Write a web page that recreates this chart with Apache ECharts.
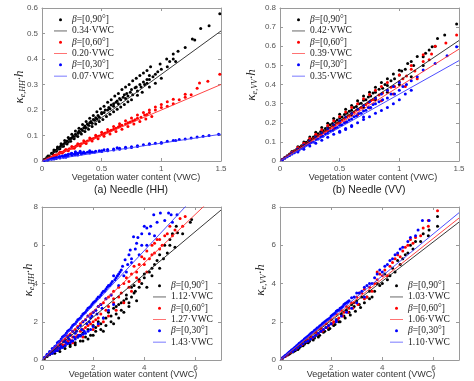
<!DOCTYPE html>
<html><head><meta charset="utf-8">
<script src="https://cdn.jsdelivr.net/npm/echarts@6/dist/echarts.min.js"></script>
<style>html,body{margin:0;padding:0;background:#fff}#c{width:474px;height:381px}</style>
</head><body><div id="c"></div><script>
// ---------- data ----------
const xTicksTop = [0, 0.5, 1, 1.5];
const yTicksA = [0, 0.1, 0.2, 0.3, 0.4, 0.5, 0.6];
const yTicksB = [0, 0.1, 0.2, 0.3, 0.4, 0.5, 0.6, 0.7, 0.8];
const xTicksBottom = [0, 2, 4, 6];
const yTicksBottom = [0, 2, 4, 6, 8];

// panel (a) Needle HH, VWC 0-1.5
const aBlack = [[0.02,0.007],[0.04,0.014],[0.05,0.02],[0.06,0.02],[0.08,0.03],[0.09,0.028],[0.1,0.037],[0.11,0.04],[0.12,0.042],[0.13,0.05],[0.14,0.047],[0.15,0.055],[0.16,0.06],[0.17,0.058],[0.18,0.066],[0.19,0.07],[0.2,0.072],[0.21,0.078],[0.22,0.075],[0.23,0.085],[0.24,0.088],[0.25,0.09],[0.26,0.097],[0.27,0.095],[0.28,0.105],[0.29,0.1],[0.3,0.11],[0.31,0.117],[0.32,0.112],[0.33,0.125],[0.34,0.12],[0.35,0.13],[0.36,0.137],[0.37,0.13],[0.38,0.145],[0.39,0.14],[0.4,0.15],[0.41,0.155],[0.42,0.148],[0.43,0.163],[0.44,0.16],[0.45,0.17],[0.46,0.165],[0.47,0.178],[0.48,0.172],[0.5,0.185],[0.5,0.19],[0.52,0.19],[0.53,0.2],[0.55,0.2],[0.56,0.21],[0.57,0.205],[0.58,0.22],[0.6,0.215],[0.6,0.225],[0.62,0.23],[0.63,0.235],[0.64,0.225],[0.65,0.245],[0.66,0.24],[0.68,0.25],[0.69,0.26],[0.7,0.245],[0.71,0.265],[0.72,0.255],[0.74,0.27],[0.75,0.28],[0.76,0.26],[0.78,0.287],[0.79,0.29],[0.8,0.275],[0.82,0.3],[0.83,0.29],[0.85,0.31],[0.86,0.3],[0.88,0.32],[0.88,0.305],[0.9,0.32],[0.9,0.335],[0.93,0.33],[0.95,0.34],[0.97,0.35],[0.99,0.38],[1.0,0.36],[1.045,0.4],[1.05,0.37],[1.07,0.39],[1.1,0.42],[1.1,0.4],[1.12,0.39],[1.14,0.43],[1.2,0.445],[1.26,0.478],[1.28,0.475],[1.33,0.52],[1.4,0.53],[1.49,0.577]];
const aBlackSpread = [[0.1,0.043],[0.13,0.055],[0.16,0.068],[0.19,0.08],[0.22,0.092],[0.25,0.105],[0.28,0.118],[0.31,0.128],[0.34,0.143],[0.37,0.155],[0.4,0.168],[0.43,0.178],[0.46,0.193],[0.49,0.205],[0.52,0.215],[0.55,0.23],[0.58,0.24],[0.61,0.255],[0.64,0.265],[0.67,0.28],[0.7,0.29],[0.73,0.3],[0.76,0.315],[0.79,0.325],[0.82,0.335],[0.85,0.345],[0.88,0.355],[0.91,0.37],[0.12,0.038],[0.15,0.048],[0.18,0.058],[0.21,0.067],[0.24,0.077],[0.27,0.087],[0.3,0.096],[0.33,0.106],[0.36,0.116],[0.39,0.125],[0.42,0.135],[0.45,0.145],[0.48,0.155],[0.51,0.163],[0.54,0.175],[0.57,0.183],[0.6,0.193],[0.63,0.203],[0.66,0.212],[0.69,0.222],[0.72,0.232],[0.75,0.24],[0.8,0.258],[0.84,0.27],[0.9,0.29],[0.95,0.305],[1.0,0.325]];
const aRed = [[0.02,0.004],[0.04,0.008],[0.05,0.01],[0.06,0.012],[0.08,0.016],[0.1,0.02],[0.11,0.023],[0.12,0.025],[0.14,0.028],[0.15,0.031],[0.16,0.034],[0.18,0.036],[0.19,0.04],[0.2,0.042],[0.22,0.044],[0.23,0.048],[0.25,0.05],[0.26,0.054],[0.28,0.057],[0.29,0.06],[0.3,0.062],[0.32,0.066],[0.33,0.068],[0.35,0.072],[0.36,0.075],[0.38,0.078],[0.4,0.082],[0.41,0.086],[0.43,0.088],[0.45,0.093],[0.46,0.096],[0.48,0.098],[0.5,0.104],[0.52,0.107],[0.53,0.11],[0.55,0.114],[0.57,0.118],[0.58,0.121],[0.6,0.125],[0.62,0.128],[0.64,0.133],[0.65,0.136],[0.67,0.14],[0.7,0.145],[0.72,0.15],[0.74,0.153],[0.76,0.158],[0.78,0.162],[0.8,0.168],[0.83,0.172],[0.86,0.18],[0.88,0.182],[0.9,0.19],[0.95,0.2],[1.0,0.21],[1.05,0.215],[1.1,0.225],[1.15,0.24],[1.2,0.25],[1.25,0.26],[1.32,0.306],[1.39,0.313],[1.49,0.34]];
const aRedSpread = [[0.1,0.023],[0.15,0.034],[0.2,0.045],[0.25,0.057],[0.3,0.068],[0.35,0.079],[0.4,0.09],[0.45,0.101],[0.5,0.113],[0.55,0.124],[0.6,0.135],[0.65,0.146],[0.7,0.158],[0.75,0.169],[0.8,0.18],[0.85,0.19],[0.9,0.2],[0.95,0.212],[1.0,0.222],[1.05,0.232],[1.1,0.242],[1.2,0.262],[1.3,0.285],[0.12,0.022],[0.17,0.031],[0.22,0.04],[0.27,0.05],[0.32,0.059],[0.37,0.069],[0.42,0.078],[0.47,0.087],[0.52,0.097],[0.57,0.106],[0.62,0.116],[0.67,0.125],[0.72,0.135],[0.77,0.145],[0.82,0.155],[0.87,0.165],[0.92,0.175]];
const aBlue = [[0.02,0.002],[0.04,0.004],[0.05,0.006],[0.06,0.008],[0.08,0.01],[0.1,0.012],[0.12,0.014],[0.14,0.016],[0.15,0.018],[0.17,0.02],[0.19,0.022],[0.2,0.024],[0.22,0.026],[0.24,0.028],[0.25,0.03],[0.27,0.026],[0.28,0.032],[0.3,0.03],[0.32,0.033],[0.34,0.03],[0.35,0.035],[0.38,0.034],[0.4,0.036],[0.42,0.035],[0.45,0.038],[0.48,0.04],[0.5,0.04],[0.55,0.045],[0.6,0.047],[0.65,0.05],[0.7,0.054],[0.75,0.056],[0.8,0.06],[0.85,0.064],[0.9,0.066],[0.95,0.07],[1.0,0.073],[1.05,0.077],[1.1,0.08],[1.15,0.084],[1.2,0.086],[1.25,0.09],[1.3,0.094],[1.35,0.097],[1.4,0.1],[1.48,0.105]];
const aBlueSpread = [[0.05,0.004],[0.08,0.007],[0.1,0.008],[0.12,0.01],[0.15,0.012],[0.18,0.015],[0.2,0.015],[0.22,0.02],[0.25,0.022],[0.28,0.025],[0.3,0.024],[0.33,0.027],[0.36,0.03],[0.4,0.031],[0.44,0.034],[0.5,0.037],[0.55,0.04],[0.6,0.043],[0.65,0.046],[0.7,0.05],[0.75,0.053],[0.8,0.057],[0.28,0.036],[0.32,0.038],[0.4,0.04],[0.52,0.044],[0.63,0.052],[0.9,0.068],[1.0,0.07],[1.12,0.08]];

// panel (b) Needle VV, VWC 0-1.5
const bBlack = [[0.02,0.009],[0.04,0.018],[0.06,0.027],[0.08,0.036],[0.1,0.045],[0.12,0.053],[0.14,0.062],[0.16,0.072],[0.18,0.08],[0.2,0.09],[0.22,0.098],[0.24,0.108],[0.26,0.115],[0.28,0.126],[0.3,0.134],[0.32,0.142],[0.34,0.153],[0.36,0.16],[0.38,0.17],[0.4,0.178],[0.42,0.19],[0.44,0.196],[0.46,0.207],[0.48,0.214],[0.5,0.225],[0.52,0.23],[0.54,0.243],[0.56,0.25],[0.58,0.26],[0.6,0.266],[0.62,0.28],[0.64,0.285],[0.66,0.3],[0.68,0.302],[0.7,0.318],[0.72,0.32],[0.74,0.335],[0.76,0.34],[0.78,0.355],[0.8,0.36],[0.83,0.375],[0.86,0.38],[0.88,0.4],[0.9,0.395],[0.93,0.42],[0.96,0.43],[1.0,0.45],[1.02,0.47],[1.05,0.48],[1.07,0.51],[1.12,0.5],[1.15,0.546],[1.2,0.545],[1.22,0.563],[1.275,0.598],[1.3,0.6],[1.38,0.659],[1.48,0.716]];
const bBlackSpread = [[0.1,0.05],[0.15,0.075],[0.2,0.1],[0.25,0.125],[0.3,0.15],[0.35,0.175],[0.4,0.198],[0.45,0.222],[0.5,0.245],[0.55,0.27],[0.6,0.29],[0.65,0.315],[0.7,0.34],[0.75,0.36],[0.8,0.385],[0.85,0.41],[0.9,0.43],[0.95,0.455],[1.0,0.475],[1.1,0.52],[1.25,0.58],[1.32,0.64],[0.3,0.12],[0.4,0.16],[0.5,0.2],[0.6,0.24],[0.7,0.28],[0.8,0.32],[0.9,0.36],[1.0,0.4],[1.1,0.44],[1.2,0.5]];
const bRed = [[0.02,0.008],[0.04,0.016],[0.06,0.025],[0.08,0.033],[0.1,0.041],[0.12,0.05],[0.14,0.057],[0.16,0.066],[0.18,0.074],[0.2,0.082],[0.22,0.09],[0.24,0.1],[0.26,0.106],[0.28,0.116],[0.3,0.122],[0.32,0.132],[0.34,0.14],[0.36,0.148],[0.38,0.155],[0.4,0.165],[0.42,0.172],[0.44,0.182],[0.46,0.188],[0.48,0.198],[0.5,0.205],[0.52,0.213],[0.54,0.222],[0.56,0.23],[0.58,0.238],[0.6,0.248],[0.62,0.255],[0.64,0.265],[0.66,0.27],[0.68,0.28],[0.7,0.29],[0.72,0.295],[0.74,0.305],[0.76,0.315],[0.78,0.32],[0.8,0.33],[0.83,0.345],[0.86,0.355],[0.9,0.37],[0.93,0.385],[0.96,0.39],[1.0,0.415],[1.03,0.43],[1.06,0.445],[1.1,0.5],[1.13,0.47],[1.2,0.555],[1.25,0.53],[1.3,0.6],[1.39,0.617],[1.48,0.659]];
const bRedSpread = [[0.1,0.046],[0.15,0.07],[0.2,0.093],[0.25,0.117],[0.3,0.14],[0.35,0.163],[0.4,0.186],[0.45,0.21],[0.5,0.233],[0.55,0.256],[0.6,0.28],[0.65,0.3],[0.7,0.325],[0.75,0.348],[0.8,0.37],[0.85,0.39],[0.9,0.41],[1.0,0.45],[1.1,0.48],[1.2,0.52],[1.27,0.56],[0.25,0.093],[0.35,0.13],[0.45,0.166],[0.55,0.203],[0.65,0.24],[0.75,0.277],[0.85,0.315],[0.95,0.35],[1.05,0.39],[1.15,0.43]];
const bBlue = [[0.02,0.007],[0.04,0.014],[0.06,0.022],[0.08,0.029],[0.1,0.037],[0.12,0.043],[0.14,0.052],[0.16,0.058],[0.18,0.067],[0.2,0.072],[0.22,0.082],[0.24,0.087],[0.26,0.097],[0.28,0.1],[0.3,0.112],[0.32,0.115],[0.34,0.127],[0.36,0.13],[0.38,0.142],[0.4,0.145],[0.42,0.157],[0.44,0.16],[0.46,0.172],[0.48,0.175],[0.5,0.187],[0.5,0.15],[0.52,0.19],[0.54,0.2],[0.55,0.165],[0.56,0.205],[0.58,0.215],[0.6,0.22],[0.6,0.18],[0.62,0.232],[0.64,0.235],[0.66,0.248],[0.68,0.25],[0.7,0.262],[0.7,0.23],[0.72,0.265],[0.74,0.28],[0.76,0.28],[0.78,0.295],[0.8,0.3],[0.83,0.31],[0.86,0.32],[0.9,0.33],[0.93,0.35],[0.96,0.35],[1.0,0.37],[1.03,0.39],[1.06,0.4],[1.1,0.42],[1.15,0.44],[1.2,0.476],[1.3,0.51],[1.4,0.55],[1.48,0.598]];
const bBlueSpread = [[0.1,0.042],[0.15,0.063],[0.2,0.084],[0.25,0.105],[0.3,0.126],[0.35,0.147],[0.4,0.168],[0.45,0.19],[0.5,0.21],[0.55,0.23],[0.6,0.25],[0.65,0.27],[0.7,0.29],[0.75,0.31],[0.8,0.33],[0.85,0.35],[0.9,0.37],[0.95,0.39],[1.0,0.41],[0.15,0.047],[0.2,0.062],[0.25,0.078],[0.3,0.093],[0.35,0.108],[0.4,0.124],[0.45,0.14],[0.5,0.155],[0.55,0.17],[0.6,0.186],[0.65,0.2],[0.7,0.217],[0.75,0.232],[0.8,0.25],[0.85,0.264],[0.9,0.28],[0.95,0.3],[1.0,0.32],[1.05,0.35],[1.1,0.37]];

// panel (c) HH, VWC 0-7
const cBlack = [[0.1,0.08],[0.2,0.18],[0.3,0.28],[0.4,0.35],[0.5,0.45],[0.6,0.5],[0.7,0.6],[0.8,0.7],[0.9,0.75],[1.0,0.9],[1.1,0.8],[1.2,1.0],[1.3,0.9],[1.4,1.2],[1.5,1.0],[1.6,1.4],[1.7,1.2],[1.8,1.6],[1.9,1.3],[2.0,1.8],[2.1,1.5],[2.2,2.0],[2.3,1.6],[2.4,2.2],[2.5,1.8],[2.6,2.5],[2.7,2.0],[2.8,2.7],[2.9,2.4],[3.0,2.9],[3.1,2.6],[3.2,3.1],[3.3,3.4],[3.4,3.0],[3.5,3.8],[3.6,3.5],[3.65,3.6],[3.8,4.2],[3.9,4.0],[4.0,4.3],[4.2,4.6],[4.3,4.8],[4.5,5.2],[4.6,5.5],[4.75,5.3],[4.8,6.0],[5.0,6.3],[5.1,6.6],[5.25,7.0],[5.3,6.65],[5.85,7.35]];
const cBlackSpread = [[0.5,0.35],[0.7,0.45],[0.9,0.6],[1.1,0.7],[1.3,0.8],[1.5,1.3],[1.6,1.0],[1.8,1.1],[2.0,1.3],[2.1,1.7],[2.3,1.9],[2.4,1.5],[2.5,2.2],[2.7,2.3],[2.8,1.9],[2.9,2.8],[3.0,2.2],[3.1,3.0],[3.2,2.5],[3.3,3.2],[3.4,2.8],[3.5,3.3],[3.6,3.9],[3.7,3.1],[3.8,3.8],[4.0,4.5],[4.1,3.8],[4.3,4.4],[4.4,5.0],[4.6,4.8],[4.9,5.6],[5.0,6.0],[5.2,5.9],[5.5,6.6],[5.8,7.2]];
const cRed = [[0.1,0.12],[0.2,0.25],[0.3,0.35],[0.4,0.5],[0.5,0.6],[0.6,0.75],[0.6,0.6],[0.7,0.85],[0.8,1.0],[0.8,0.8],[0.9,1.1],[1.0,1.25],[1.0,1.0],[1.1,1.35],[1.2,1.5],[1.2,1.2],[1.3,1.6],[1.4,1.75],[1.4,1.3],[1.5,1.9],[1.6,2.0],[1.6,1.6],[1.7,2.1],[1.8,2.3],[1.8,1.8],[1.9,2.4],[2.0,2.5],[2.0,2.0],[2.1,2.6],[2.2,2.8],[2.2,2.2],[2.3,2.9],[2.4,3.0],[2.5,3.2],[2.5,2.6],[2.6,3.3],[2.7,3.4],[2.8,3.6],[2.8,3.0],[3.0,3.8],[3.0,3.3],[3.2,4.0],[3.3,4.3],[3.4,3.8],[3.5,4.5],[3.6,4.9],[3.7,4.3],[3.8,5.0],[3.9,5.4],[4.0,5.0],[4.1,5.7],[4.2,5.3],[4.3,6.0],[4.4,5.6],[4.5,6.3],[4.6,5.8],[4.8,6.5],[5.0,7.0],[5.2,6.8],[5.4,7.4]];
const cRedSpread = [[0.3,0.3],[0.5,0.45],[0.7,0.65],[0.9,0.8],[1.1,1.05],[1.3,1.2],[1.5,1.5],[1.7,1.7],[1.9,1.9],[2.1,2.1],[2.3,2.4],[2.4,2.0],[2.6,2.8],[2.6,2.3],[2.8,3.2],[2.9,2.6],[3.1,3.5],[3.2,3.0],[3.4,4.1],[3.5,3.6],[3.7,4.6],[3.8,4.1],[4.0,5.3],[4.1,4.6],[4.3,5.5],[4.4,6.1],[4.6,6.3],[4.7,6.0],[4.9,6.6],[5.1,6.5],[5.5,7.0],[5.6,7.5],[1.2,0.9],[1.6,1.2],[2.0,1.6],[2.2,1.8]];
const cBlue = [[0.1,0.15],[0.2,0.3],[0.3,0.45],[0.35,0.4],[0.4,0.6],[0.5,0.7],[0.5,0.55],[0.6,0.9],[0.7,1.0],[0.7,0.8],[0.8,1.2],[0.9,1.3],[0.9,1.0],[1.0,1.5],[1.0,1.2],[1.1,1.6],[1.1,1.3],[1.2,1.8],[1.2,1.5],[1.3,1.9],[1.3,1.4],[1.4,2.1],[1.4,1.7],[1.5,2.2],[1.5,1.8],[1.6,2.4],[1.6,2.0],[1.7,2.5],[1.7,2.1],[1.8,2.7],[1.8,2.3],[1.9,2.8],[1.9,2.2],[2.0,3.0],[2.0,2.5],[2.1,3.1],[2.1,2.6],[2.2,3.3],[2.2,2.8],[2.3,3.4],[2.3,2.9],[2.4,3.6],[2.5,3.7],[2.5,3.2],[2.6,3.9],[2.7,4.0],[2.7,3.4],[2.8,4.4],[2.9,4.3],[3.0,4.5],[3.0,3.9],[3.1,4.7],[3.25,5.24],[3.3,4.6],[3.45,5.75],[3.5,5.1],[3.58,6.45],[3.7,6.1],[3.8,5.5],[4.0,7.0],[4.1,6.9],[4.1,6.0],[4.37,7.6],[4.4,6.5],[4.63,7.68],[4.95,7.68],[5.1,7.2],[5.28,7.6]];
const cBlueSpread = [[0.2,0.25],[0.3,0.38],[0.4,0.48],[0.45,0.6],[0.55,0.75],[0.6,0.65],[0.65,0.95],[0.75,1.1],[0.75,0.7],[0.85,1.25],[0.85,0.95],[0.95,1.4],[0.95,0.9],[1.05,1.55],[1.05,1.1],[1.15,1.7],[1.15,1.0],[1.25,1.85],[1.25,1.2],[1.35,2.0],[1.35,1.5],[1.45,2.15],[1.45,1.3],[1.55,2.3],[1.55,1.6],[1.65,2.45],[1.65,1.5],[1.75,2.6],[1.75,1.9],[1.85,2.75],[1.85,2.0],[1.95,2.9],[1.95,2.3],[2.05,3.05],[2.15,3.2],[2.15,2.4],[2.25,3.3],[2.35,3.5],[2.35,2.7],[2.45,3.6],[2.55,3.8],[2.65,3.9],[2.75,4.1],[2.85,4.2],[2.95,4.4],[3.05,4.6],[3.15,4.9],[3.2,4.4],[3.35,5.0],[3.4,5.5],[3.5,5.3],[3.65,5.8],[3.75,6.4],[3.9,6.0],[3.9,6.6],[4.2,6.6],[4.25,7.0],[4.5,7.2],[4.8,7.3],[5.05,7.6],[0.3,0.3],[0.4,0.35],[0.5,0.45],[0.6,0.5],[0.7,0.6],[0.8,0.65],[0.9,0.75],[1.0,0.85],[1.1,0.9],[1.2,1.0],[1.3,1.1],[1.4,1.2],[1.5,1.25],[1.6,1.35],[1.7,1.4],[1.8,1.5],[1.9,1.6],[2.0,1.75],[2.2,1.9],[2.4,2.2],[2.6,2.6],[2.8,2.9]];

// panel (d) VV, VWC 0-7
const dBlack = [[0.1,0.09],[0.2,0.18],[0.3,0.26],[0.4,0.35],[0.5,0.42],[0.6,0.5],[0.7,0.55],[0.8,0.7],[0.9,0.75],[1.0,0.9],[1.1,0.9],[1.2,1.1],[1.3,1.05],[1.4,1.3],[1.5,1.2],[1.6,1.5],[1.7,1.45],[1.8,1.7],[1.9,1.6],[2.0,1.9],[2.1,1.8],[2.2,2.1],[2.3,2.0],[2.4,2.4],[2.5,2.3],[2.6,2.6],[2.7,2.5],[2.8,2.9],[2.9,2.8],[3.0,3.1],[3.1,2.9],[3.2,3.3],[3.4,3.3],[3.5,3.6],[3.6,3.3],[3.8,4.0],[4.0,4.0],[4.1,4.5],[4.3,4.4],[4.4,4.8],[4.6,5.2],[4.8,5.3],[5.0,5.6],[5.1,6.0],[5.3,6.2],[5.6,6.6],[5.83,6.8],[6.16,7.5]];
const dBlackSpread = [[0.35,0.3],[0.55,0.46],[0.75,0.63],[0.95,0.82],[1.15,0.98],[1.35,1.15],[1.55,1.3],[1.75,1.5],[1.95,1.65],[2.15,1.85],[2.35,2.0],[2.55,2.2],[2.75,2.35],[2.95,2.55],[3.15,2.75],[3.3,3.0],[3.5,3.2],[3.7,3.6],[3.9,3.9],[4.2,4.2],[4.5,4.6],[4.7,5.0],[4.9,5.5],[5.2,5.8],[5.5,6.2],[5.8,6.5],[6.16,7.0]];
const dRed = [[0.1,0.1],[0.2,0.2],[0.3,0.3],[0.4,0.4],[0.5,0.5],[0.6,0.58],[0.7,0.7],[0.8,0.8],[0.9,0.85],[1.0,1.0],[1.1,1.05],[1.2,1.2],[1.3,1.2],[1.4,1.45],[1.5,1.4],[1.6,1.65],[1.7,1.6],[1.8,1.9],[1.9,1.8],[2.0,2.1],[2.1,2.0],[2.2,2.4],[2.3,2.2],[2.4,2.6],[2.5,2.5],[2.6,2.8],[2.7,2.7],[2.8,3.0],[2.9,3.0],[3.0,3.3],[3.2,3.5],[3.3,3.2],[3.5,3.8],[3.6,3.6],[3.8,4.2],[3.9,4.5],[4.1,4.7],[4.2,4.4],[4.4,5.1],[4.6,5.5],[4.8,5.7],[5.0,6.0],[5.1,6.3],[5.3,6.4],[5.6,6.9],[5.8,7.0],[6.16,7.8]];
const dRedSpread = [[0.25,0.25],[0.45,0.45],[0.65,0.62],[0.85,0.8],[1.05,0.98],[1.25,1.15],[1.45,1.35],[1.65,1.5],[1.85,1.7],[2.05,1.9],[2.25,2.1],[2.45,2.3],[2.65,2.5],[2.85,2.7],[3.05,2.9],[3.1,3.5],[3.3,3.7],[3.4,3.3],[3.7,4.0],[3.8,4.6],[4.0,4.4],[4.3,4.9],[4.5,5.3],[4.7,5.4],[4.9,5.9],[5.2,6.1],[5.5,6.5],[5.8,7.3]];
const dBlue = [[0.1,0.12],[0.2,0.23],[0.3,0.34],[0.4,0.46],[0.5,0.56],[0.5,0.45],[0.6,0.68],[0.7,0.8],[0.7,0.65],[0.8,0.92],[0.9,1.02],[0.9,0.85],[1.0,1.15],[1.1,1.25],[1.1,1.0],[1.2,1.38],[1.3,1.48],[1.3,1.2],[1.4,1.6],[1.5,1.7],[1.5,1.4],[1.6,1.82],[1.7,1.95],[1.7,1.6],[1.8,2.05],[1.9,2.15],[1.9,1.8],[2.0,2.3],[2.1,2.4],[2.2,2.55],[2.2,2.1],[2.3,2.6],[2.4,2.75],[2.5,2.9],[2.6,3.0],[2.7,3.1],[2.8,3.25],[2.9,3.3],[3.0,3.5],[3.2,3.6],[3.4,3.9],[3.6,4.0],[3.8,4.5],[4.0,4.6],[4.2,5.0],[4.4,5.3],[4.6,5.6],[4.8,5.9],[5.0,6.2],[5.3,6.5],[5.57,7.3],[5.83,7.3]];
const dBlueSpread = [[0.15,0.17],[0.25,0.28],[0.35,0.4],[0.45,0.52],[0.55,0.63],[0.65,0.75],[0.75,0.87],[0.85,0.98],[0.95,1.1],[1.05,1.2],[1.15,1.32],[1.25,1.44],[1.35,1.55],[1.45,1.67],[1.55,1.78],[1.65,1.9],[1.75,2.0],[1.85,2.1],[1.95,2.2],[2.05,2.35],[2.15,2.45],[2.25,2.6],[2.35,2.7],[2.45,2.8],[2.55,2.95],[2.65,3.05],[0.6,0.55],[0.8,0.75],[1.0,0.95],[1.2,1.1],[1.4,1.3],[1.6,1.5],[1.8,1.7],[2.0,1.9],[2.2,2.0],[2.4,2.3],[2.6,2.5],[2.8,2.7],[3.0,3.0],[3.1,3.5],[3.3,3.3],[3.3,3.8],[3.5,4.0],[3.7,4.3],[3.9,4.7],[4.1,4.9],[4.3,5.2],[4.5,5.5],[4.7,5.8],[5.1,6.4],[5.4,6.8]];

// fitted lines: end points
const aLines = [[[0,0],[1.5,0.51]], [[0,0],[1.5,0.30]], [[0,0],[1.5,0.105]]];
const bLines = [[[0,0],[1.5,0.63]], [[0,0],[1.5,0.585]], [[0,0],[1.5,0.525]]];
const cLines = [[[0,0],[7,7.84]], [[0,0],[7,8.89]], [[0,0],[7,10.01]]];
const dLines = [[[0,0],[7,7.21]], [[0,0],[7,7.42]], [[0,0],[7,7.7]]];

const betaLabels = ['{i|β}=[0,90°]', '{i|β}=[0,60°]', '{i|β}=[0,30°]'];
const fitA = ['0.34·VWC', '0.20·VWC', '0.07·VWC'];
const fitB = ['0.42·VWC', '0.39·VWC', '0.35·VWC'];
const fitC = ['1.12·VWC', '1.27·VWC', '1.43·VWC'];
const fitD = ['1.03·VWC', '1.06·VWC', '1.10·VWC'];

// ---------- chart ----------
const scatterColors = ['#000000', '#ff0000', '#0000ff'];
const lineColors = ['#222222', '#ff3030', '#3a3aff'];
const grids = [
  {left: 42, top: 8, width: 179, height: 153},
  {left: 280, top: 8, width: 179, height: 153},
  {left: 42, top: 207, width: 179, height: 153},
  {left: 280, top: 207, width: 179, height: 153}
];
const panels = [
  {id:'a', xt: xTicksTop, xmax: 1.5, yt: yTicksA, pts:[aBlack.concat(aBlackSpread), aRed.concat(aRedSpread), aBlue.concat(aBlueSpread)], lines:aLines, fits:fitA, legend:{left:54, top:14}},
  {id:'b', xt: xTicksTop, xmax: 1.5, yt: yTicksB, pts:[bBlack.concat(bBlackSpread), bRed.concat(bRedSpread), bBlue.concat(bBlueSpread)], lines:bLines, fits:fitB, legend:{left:292, top:14}},
  {id:'c', xt: xTicksBottom, xmax: 7, yt: yTicksBottom, pts:[cBlack.concat(cBlackSpread), cRed.concat(cRedSpread), cBlue.concat(cBlueSpread)], lines:cLines, fits:fitC, legend:{left:153, top:280}},
  {id:'d', xt: xTicksBottom, xmax: 7, yt: yTicksBottom, pts:[dBlack.concat(dBlackSpread), dRed.concat(dRedSpread), dBlue.concat(dBlueSpread)], lines:dLines, fits:fitD, legend:{left:390, top:280}}
];

const axisCol = '#9a9a9a';
function mkAxis(gi, ticks, max, pos, showLabel) {
  const interval = ticks[1] - ticks[0];
  return {
    type: 'value', gridIndex: gi, position: pos, min: ticks[0], max: max, interval: interval,
    axisLine: {show: true, onZero: false, lineStyle: {color: axisCol, width: 1}},
    axisTick: {show: true, inside: true, length: 3, lineStyle: {color: axisCol}},
    splitLine: {show: false},
    axisLabel: {show: showLabel, color: '#555', fontSize: 8, fontFamily: 'Liberation Sans', margin: 4,
      formatter: v => (ticks.some(t => Math.abs(t - v) < 1e-9) ? String(v) : '')}
  };
}

const lineIcon = 'path://M0,0H100V7H0Z';
const xAxis = [], yAxis = [], series = [], legend = [];
const nameMap = {};
panels.forEach((p, gi) => {
  xAxis.push(mkAxis(gi, p.xt, p.xmax, 'bottom', true));
  xAxis.push(mkAxis(gi, p.xt, p.xmax, 'top', false));
  yAxis.push(mkAxis(gi, p.yt, p.yt[p.yt.length-1], 'left', true));
  yAxis.push(mkAxis(gi, p.yt, p.yt[p.yt.length-1], 'right', false));
  const ldata = [];
  for (let k = 0; k < 3; k++) {
    const sn = p.id + 's' + k, ln = p.id + 'l' + k;
    nameMap[sn] = betaLabels[k];
    nameMap[ln] = p.fits[k];
    series.push({type: 'scatter', name: sn, xAxisIndex: 2*gi, yAxisIndex: 2*gi, data: p.pts[k],
      symbol: 'circle', symbolSize: 3, itemStyle: {color: scatterColors[k], opacity: 1}, silent: true});
    series.push({type: 'line', name: ln, xAxisIndex: 2*gi, yAxisIndex: 2*gi, data: p.lines[k],
      symbol: 'none', showSymbol: false, clip: true, lineStyle: {color: lineColors[k], width: 0.9}, itemStyle: {color: lineColors[k]}, silent: true});
    ldata.push({name: sn, icon: 'circle'});
    ldata.push({name: ln, icon: lineIcon, itemStyle: {color: lineColors[k], opacity: 0.75}});
  }
  legend.push({
    orient: 'vertical', left: p.legend.left, top: p.legend.top, itemGap: 0, itemWidth: 13, itemHeight: 3,
    padding: 0, selectedMode: false, data: ldata, symbolKeepAspect: true,
    formatter: n => nameMap[n],
    textStyle: {fontFamily: 'Liberation Serif', fontSize: 9.5, color: '#222', lineHeight: 11.3, padding: [0,0,0,0],
      rich: {i: {fontFamily: 'Liberation Serif', fontStyle: 'italic', fontSize: 9.5, color: '#222', lineHeight: 11.3}}}
  });
});

const xTitle = 'Vegetation water content (VWC)';
function txt(x, y, text, font, fill) {
  return {type: 'text', x: x, y: y, silent: true,
    style: {text: text, font: font, fill: fill, align: 'center', verticalAlign: 'middle'}};
}
function yTitle(x, y, sub) {
  return {type: 'text', x: x, y: y, rotation: Math.PI/2, silent: true,
    style: {text: '{k|κ}{s|e,' + sub + '}{k|·h}', align: 'center', verticalAlign: 'middle', fill: '#222',
      rich: {
        k: {fontFamily: 'Liberation Serif', fontStyle: 'italic', fontSize: 13, fill: '#222'},
        s: {fontFamily: 'Liberation Serif', fontStyle: 'italic', fontSize: 8, fill: '#222', padding: [5,0,0,0]}
      }}};
}
const graphic = [
  txt(136, 178, xTitle, '9px "Liberation Sans"', '#333'),
  txt(373, 178, xTitle, '9px "Liberation Sans"', '#333'),
  txt(133, 375, xTitle, '9px "Liberation Sans"', '#333'),
  txt(371, 375, xTitle, '9px "Liberation Sans"', '#333'),
  txt(131, 190, '(a) Needle (HH)', '10.5px "Liberation Sans"', '#222'),
  txt(369, 190, '(b) Needle (VV)', '10.5px "Liberation Sans"', '#222'),
  yTitle(20, 87, 'HH'),
  yTitle(252, 85, 'VV'),
  yTitle(29, 280, 'HH'),
  yTitle(261, 280, 'VV')
];

const chart = echarts.init(document.getElementById('c'), null, {renderer: 'canvas'});
chart.setOption({
  animation: false, backgroundColor: '#fff',
  grid: grids.map(g => Object.assign({show: false}, g)),
  xAxis: xAxis, yAxis: yAxis, series: series, legend: legend, graphic: graphic
});
</script></body></html>
